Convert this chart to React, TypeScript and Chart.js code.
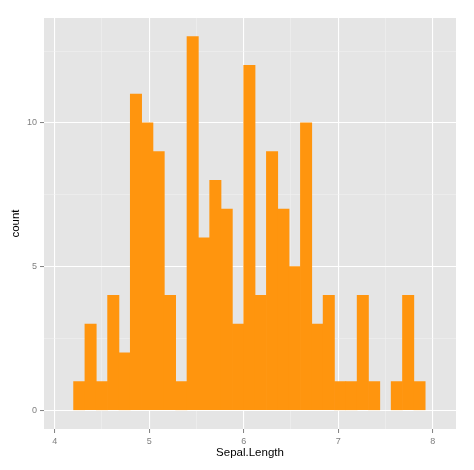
import React, { useEffect, useRef } from "react";
import { Chart, registerables } from "chart.js";

Chart.register(...registerables);

// Histogram of Sepal.Length (bins of width 0.12 starting at 4.2)
const binStart = 4.2;
const binWidth = 0.12;
const counts = [1, 3, 1, 4, 2, 11, 10, 9, 4, 1, 13, 6, 8, 7, 3, 12, 4, 9, 7, 5, 10, 3, 4, 1, 1, 4, 1, 0, 1, 4, 1];
const binCenters = counts.map((_, i) => +(binStart + binWidth * (i + 0.5)).toFixed(3));

const xMajorTicks = [4, 5, 6, 7, 8];
const xMinorTicks = [4.5, 5.5, 6.5, 7.5];
const yMajorTicks = [0, 5, 10];
const yMinorTicks = [2.5, 7.5, 12.5];

const FONT = "'Liberation Sans', Arial, sans-serif";
const PANEL = "#E5E5E5";
const GREY = "#7F7F7F";
const BAR = "#FF950E";

const panelBg = {
  id: "panelBg",
  beforeDraw(chart: any) {
    const { ctx, chartArea } = chart;
    ctx.save();
    ctx.fillStyle = PANEL;
    ctx.fillRect(chartArea.left, chartArea.top, chartArea.right - chartArea.left, chartArea.bottom - chartArea.top);
    ctx.restore();
  },
};

export default function App() {
  const ref = useRef<HTMLCanvasElement | null>(null);

  useEffect(() => {
    if (!ref.current) return;
    const isMajorX = (v: number) => xMajorTicks.includes(v);
    const isMajorY = (v: number) => yMajorTicks.includes(v);
    const chart = new Chart(ref.current, {
      type: "bar",
      data: {
        datasets: [
          {
            data: binCenters.map((x, i) => ({ x, y: counts[i] })),
            backgroundColor: BAR,
            borderWidth: 0,
            barPercentage: 1,
            categoryPercentage: 1,
            inflateAmount: (c: any) => (c.raw && c.raw.y === 0 ? 0 : 0.33),
            hidden: false,
          },
        ],
      },
      options: {
        responsive: false,
        animation: false,
        layout: { padding: { top: 18, right: 18, left: 0, bottom: 0 } },
        plugins: { legend: { display: false }, tooltip: { enabled: false } },
        scales: {
          x: {
            type: "linear",
            min: 3.887,
            max: 8.246,
            offset: false,
            border: { display: false },
            grid: {
              offset: false,
              drawTicks: true,
              tickLength: 4,
              color: (c: any) => (isMajorX(c.tick?.value) ? "#FFFFFF" : "#F2F2F2"),
              lineWidth: (c: any) => (isMajorX(c.tick?.value) ? 1.1 : 0.5),
              tickColor: (c: any) => (isMajorX(c.tick?.value) ? GREY : "rgba(0,0,0,0)"),
              tickWidth: 1,
            },
            afterBuildTicks: (s: any) => {
              s.ticks = [...xMajorTicks, ...xMinorTicks].sort((a, b) => a - b).map((v) => ({ value: v }));
            },
            afterFit: (s: any) => {
              s.height = 41;
            },
            ticks: {
              autoSkip: false,
              maxRotation: 0,
              padding: 3,
              color: GREY,
              font: { family: FONT, size: 9 },
              callback: (v: any) => (isMajorX(Number(v)) ? String(v) : ""),
            },
            title: {
              display: true,
              text: "Sepal.Length",
              color: "#000000",
              font: { family: FONT, size: 11.5 },
              padding: { top: 0, bottom: 10 },
            },
          },
          y: {
            type: "linear",
            min: -0.65,
            max: 13.65,
            border: { display: false },
            grid: {
              drawTicks: true,
              tickLength: 4,
              color: (c: any) => (isMajorY(c.tick?.value) ? "#FFFFFF" : "#F2F2F2"),
              lineWidth: (c: any) => (isMajorY(c.tick?.value) ? 1.1 : 0.5),
              tickColor: (c: any) => (isMajorY(c.tick?.value) ? GREY : "rgba(0,0,0,0)"),
              tickWidth: 1,
            },
            afterBuildTicks: (s: any) => {
              s.ticks = [...yMajorTicks, ...yMinorTicks].sort((a, b) => a - b).map((v) => ({ value: v }));
            },
            afterFit: (s: any) => {
              s.width = 44;
            },
            ticks: {
              autoSkip: false,
              padding: 3,
              color: GREY,
              font: { family: FONT, size: 9 },
              callback: (v: any) => (isMajorY(Number(v)) ? String(v) : ""),
            },
            title: {
              display: true,
              text: "count",
              color: "#000000",
              font: { family: FONT, size: 11.5 },
              padding: { top: 9, bottom: 0 },
            },
          },
        },
      },
      plugins: [panelBg],
    } as any);
    return () => chart.destroy();
  }, []);

  return (
    <div style={{ position: "absolute", left: 0, top: 0, width: 474, height: 470, background: "#FFFFFF" }}>
      <canvas ref={ref} width={474} height={470} />
    </div>
  );
}
